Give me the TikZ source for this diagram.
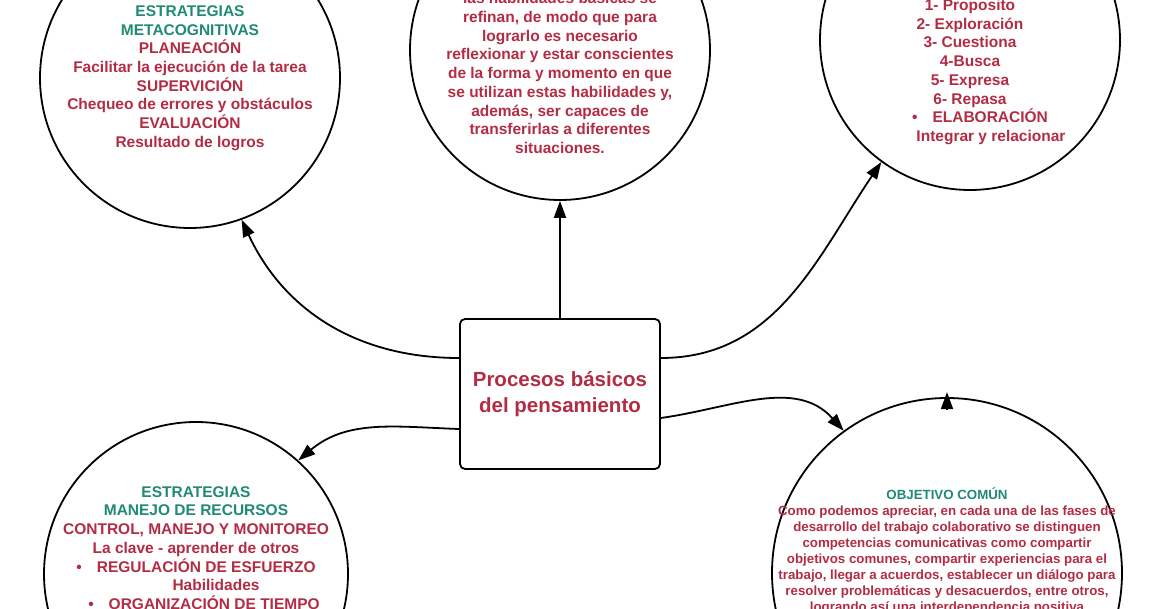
\documentclass[tikz,border=0pt]{standalone}
\usepackage{fontspec}
\setmainfont{Liberation Sans}
\usetikzlibrary{arrows.meta,positioning}

\definecolor{rojo}{RGB}{178,44,68}
\definecolor{verde}{RGB}{32,138,116}

\begin{document}
\begin{tikzpicture}[
    x = 1pt, y = 1pt, % one unit per pixel
    > = {Triangle[length=17pt,width=12pt]}, % arrow head style
    line width = 1.8pt, % line style
    font = \bfseries
    ]

    \tikzset{
    circulo/.style = {draw = black, circle, minimum size = 300pt, inner sep = 0pt},
    texto/.style = {align = center, text = rojo, inner sep = 0pt,
        font = \bfseries\fontsize{15.5}{18.7}\selectfont},
    textochico/.style = {texto, font = \bfseries\fontsize{13.3}{16}\selectfont}
    }

    \useasboundingbox (0,0) rectangle (1160,-609);

    \node[draw, rounded corners = 5pt, minimum width = 200pt, minimum height = 150pt,
        text = rojo, align = center, font = \bfseries\fontsize{20.5}{26}\selectfont]
        (proc) at (560,-394) {Procesos básicos\\del pensamiento};

    \node[circulo] (meta) at (190,-78) {};
    \node[circulo] (habil) at (560,-50) {};
    \node[circulo] (fases) at (970,-40) {};
    \node[circulo, minimum size = 304pt] (recursos) at (196,-574) {};
    \node[circulo, minimum size = 350pt] (comun) at (947,-573) {};

    \node[texto] (metatxt) at (meta.center) {%
        \textcolor{verde}{ESTRATEGIAS}\\
        \textcolor{verde}{METACOGNITIVAS}\\
        PLANEACIÓN\\
        Facilitar la ejecución de la tarea\\
        SUPERVICIÓN\\
        Chequeo de errores y obstáculos\\
        EVALUACIÓN\\
        Resultado de logros};

    \node[texto] (habiltxt) at ([yshift=-23pt]habil.center) {%
        las habilidades básicas se\\
        refinan, de modo que para\\
        lograrlo es necesario\\
        reflexionar y estar conscientes\\
        de la forma y momento en que\\
        se utilizan estas habilidades y,\\
        además, ser capaces de\\
        transferirlas a diferentes\\
        situaciones.};

    \node[texto] (fasestxt) at ([yshift=-32pt]fases.center) {%
        1- Proposito\\
        2- Exploración\\
        3- Cuestiona\\
        4-Busca\\
        5- Expresa\\
        6- Repasa\\
        \hspace*{20pt}•\hspace{15pt}ELABORACIÓN\\
        \hspace*{42pt}Integrar y relacionar};

    \node[texto] (recursostxt) at ([yshift=26pt]recursos.center) {%
        \textcolor{verde}{ESTRATEGIAS}\\
        \textcolor{verde}{MANEJO DE RECURSOS}\\
        CONTROL, MANEJO Y MONITOREO\\
        La clave - aprender de otros\\
        •\hspace{15pt}REGULACIÓN DE ESFUERZO\\
        \hspace*{40pt}Habilidades\\
        \hspace*{16pt}•\hspace{15pt}ORGANIZACIÓN DE TIEMPO};

    \node[textochico] (comuntxt) at ([yshift=22pt]comun.center) {%
        \textcolor{verde}{OBJETIVO COMÚN}\\
        Como podemos apreciar, en cada una de las fases de\\
        desarrollo del trabajo colaborativo se distinguen\\
        competencias comunicativas como compartir\\
        objetivos comunes, compartir experiencias para el\\
        trabajo, llegar a acuerdos, establecer un diálogo para\\
        resolver problemáticas y desacuerdos, entre otros,\\
        logrando así una interdependencia positiva};

    \coordinate (cola) at ([yshift=-12pt]comun.north);
    \coordinate (punta) at ([yshift=5pt]comun.north);

    \path[->] ([yshift=36pt]proc.west) edge[out=180, in=-65] (meta.-70);
    \path[->] (proc.north) edge (habil.south);
    \path[->] ([yshift=36pt]proc.east) edge[out=0, in=-124] (fases.234);
    \path[->] ([yshift=-35pt]proc.west) edge[out=178, in=40] (recursos.48);
    \path[->] ([yshift=-24pt]proc.east) edge[out=8, in=132] (comun.126);
    \path[->] (cola) edge (punta);
\end{tikzpicture}
\end{document}
